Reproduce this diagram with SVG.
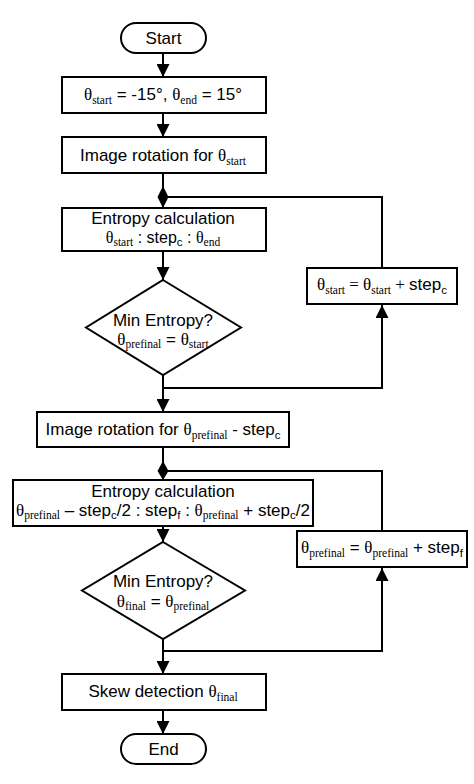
<svg xmlns="http://www.w3.org/2000/svg" width="474" height="784" viewBox="0 0 474 784">
<style>
.shape{fill:#fff;stroke:#000;stroke-width:2}
.ln{fill:none;stroke:#000;stroke-width:2}
.t{font-family:"Liberation Sans",Arial,sans-serif;font-size:17px;fill:#000;text-anchor:middle}
.g{font-family:"Liberation Serif","Times New Roman",serif}
.sb{font-family:"Liberation Serif","Times New Roman",serif;font-size:11.5px}
.ss{font-size:11.5px}
</style>
<defs>
<marker id="ah" markerUnits="userSpaceOnUse" markerWidth="13" markerHeight="13" refX="13" refY="6.5" orient="auto">
<path d="M0,0 L13,6.5 L0,13 z" fill="#000"/>
</marker>
</defs>
<rect width="474" height="784" fill="#fff"/>
<g id="connectors">
<line class="ln" x1="163" y1="53" x2="163" y2="77" marker-end="url(#ah)"/>
<line class="ln" x1="163" y1="113" x2="163" y2="137" marker-end="url(#ah)"/>
<line class="ln" x1="163" y1="173" x2="163" y2="207"/>
<polygon points="163,186 157.5,197 163,208 168.5,197" fill="#000"/>
<polyline class="ln" points="382,268 382,197 163,197"/>
<line class="ln" x1="163" y1="251" x2="163" y2="280" marker-end="url(#ah)"/>
<line class="ln" x1="163" y1="375" x2="163" y2="412" marker-end="url(#ah)"/>
<polyline class="ln" points="163,388 382,388 382,305" marker-end="url(#ah)"/>
<line class="ln" x1="163" y1="447" x2="163" y2="479"/>
<polygon points="163,461 157.5,471 163,480 168.5,471" fill="#000"/>
<polyline class="ln" points="382,531 382,471 163,471"/>
<line class="ln" x1="163" y1="526" x2="163" y2="542" marker-end="url(#ah)"/>
<line class="ln" x1="163" y1="639" x2="163" y2="674" marker-end="url(#ah)"/>
<polyline class="ln" points="163,651 382,651 382,568" marker-end="url(#ah)"/>
<line class="ln" x1="163" y1="710" x2="163" y2="734" marker-end="url(#ah)"/>
</g>
<g id="start">
<rect class="shape" x="121" y="23" width="85" height="30" rx="15"/>
<text class="t" x="163.5" y="44">Start</text>
</g>
<g id="init">
<rect class="shape" x="62" y="77" width="204" height="36"/>
<text class="t" x="163" y="100"><tspan class="g">θ</tspan><tspan class="sb" dy="4">start</tspan><tspan dy="-4"> = -15°, </tspan><tspan class="g">θ</tspan><tspan class="sb" dy="4">end</tspan><tspan dy="-4"> = 15°</tspan></text>
</g>
<g id="rotate1">
<rect class="shape" x="62" y="137" width="204" height="36"/>
<text class="t" x="163" y="161">Image rotation for <tspan class="g">θ</tspan><tspan class="sb" dy="4">start</tspan></text>
</g>
<g id="entropy1">
<rect class="shape" x="62" y="208" width="204" height="43"/>
<text class="t" x="163" y="224">Entropy calculation</text>
<text class="t" x="163" y="243" style="font-size:16px"><tspan class="g">θ</tspan><tspan class="sb" dy="3">start</tspan><tspan dy="-3"> : step</tspan><tspan class="ss" dy="3">c</tspan><tspan dy="-3"> : </tspan><tspan class="g">θ</tspan><tspan class="sb" dy="3">end</tspan></text>
</g>
<g id="decision1">
<polygon class="shape" points="163,280 241,327.5 163,375 86,327.5"/>
<text class="t" x="163" y="326">Min Entropy?</text>
<text class="t" x="163" y="345"><tspan class="g">θ</tspan><tspan class="sb" dy="3">prefinal</tspan><tspan dy="-3"> = </tspan><tspan class="g">θ</tspan><tspan class="sb" dy="3">start</tspan></text>
</g>
<g id="update1">
<rect class="shape" x="307" y="268" width="150" height="36"/>
<text class="t" x="382" y="290"><tspan class="g">θ</tspan><tspan class="sb" dy="4">start</tspan><tspan class="g" dy="-4"> = θ</tspan><tspan class="sb" dy="4">start</tspan><tspan class="g" dy="-4"> + </tspan><tspan>step</tspan><tspan class="ss" dy="4">c</tspan></text>
</g>
<g id="rotate2">
<rect class="shape" x="37" y="412" width="252" height="35"/>
<text class="t" x="163" y="435">Image rotation for <tspan class="g">θ</tspan><tspan class="sb" dy="4">prefinal</tspan><tspan dy="-4"> - step</tspan><tspan class="ss" dy="4">c</tspan></text>
</g>
<g id="entropy2">
<rect class="shape" x="13" y="480" width="300" height="46"/>
<text class="t" x="163" y="497">Entropy calculation</text>
<text class="t" x="163" y="516"><tspan class="g">θ</tspan><tspan class="sb" dy="3">prefinal</tspan><tspan dy="-3"> – step</tspan><tspan class="ss" dy="3">c</tspan><tspan dy="-3">/2 : step</tspan><tspan class="ss" dy="3">f</tspan><tspan dy="-3"> : </tspan><tspan class="g">θ</tspan><tspan class="sb" dy="3">prefinal</tspan><tspan dy="-3"> + step</tspan><tspan class="ss" dy="3">c</tspan><tspan dy="-3">/2</tspan></text>
</g>
<g id="decision2">
<polygon class="shape" points="163,542 245,590.5 163,639 82,590.5"/>
<text class="t" x="163" y="587">Min Entropy?</text>
<text class="t" x="163" y="607"><tspan class="g">θ</tspan><tspan class="sb" dy="3">final</tspan><tspan dy="-3"> = </tspan><tspan class="g">θ</tspan><tspan class="sb" dy="3">prefinal</tspan></text>
</g>
<g id="update2">
<rect class="shape" x="297" y="531" width="170" height="36"/>
<text class="t" x="382" y="553"><tspan class="g">θ</tspan><tspan class="sb" dy="4">prefinal</tspan><tspan dy="-4"> = </tspan><tspan class="g">θ</tspan><tspan class="sb" dy="4">prefinal</tspan><tspan dy="-4"> + step</tspan><tspan class="ss" dy="4">f</tspan></text>
</g>
<g id="skew">
<rect class="shape" x="62" y="674" width="204" height="36"/>
<text class="t" x="163" y="697">Skew detection <tspan class="g">θ</tspan><tspan class="sb" dy="4">final</tspan></text>
</g>
<g id="end">
<rect class="shape" x="121" y="734" width="85" height="30" rx="15"/>
<text class="t" x="163.5" y="755">End</text>
</g>
</svg>
